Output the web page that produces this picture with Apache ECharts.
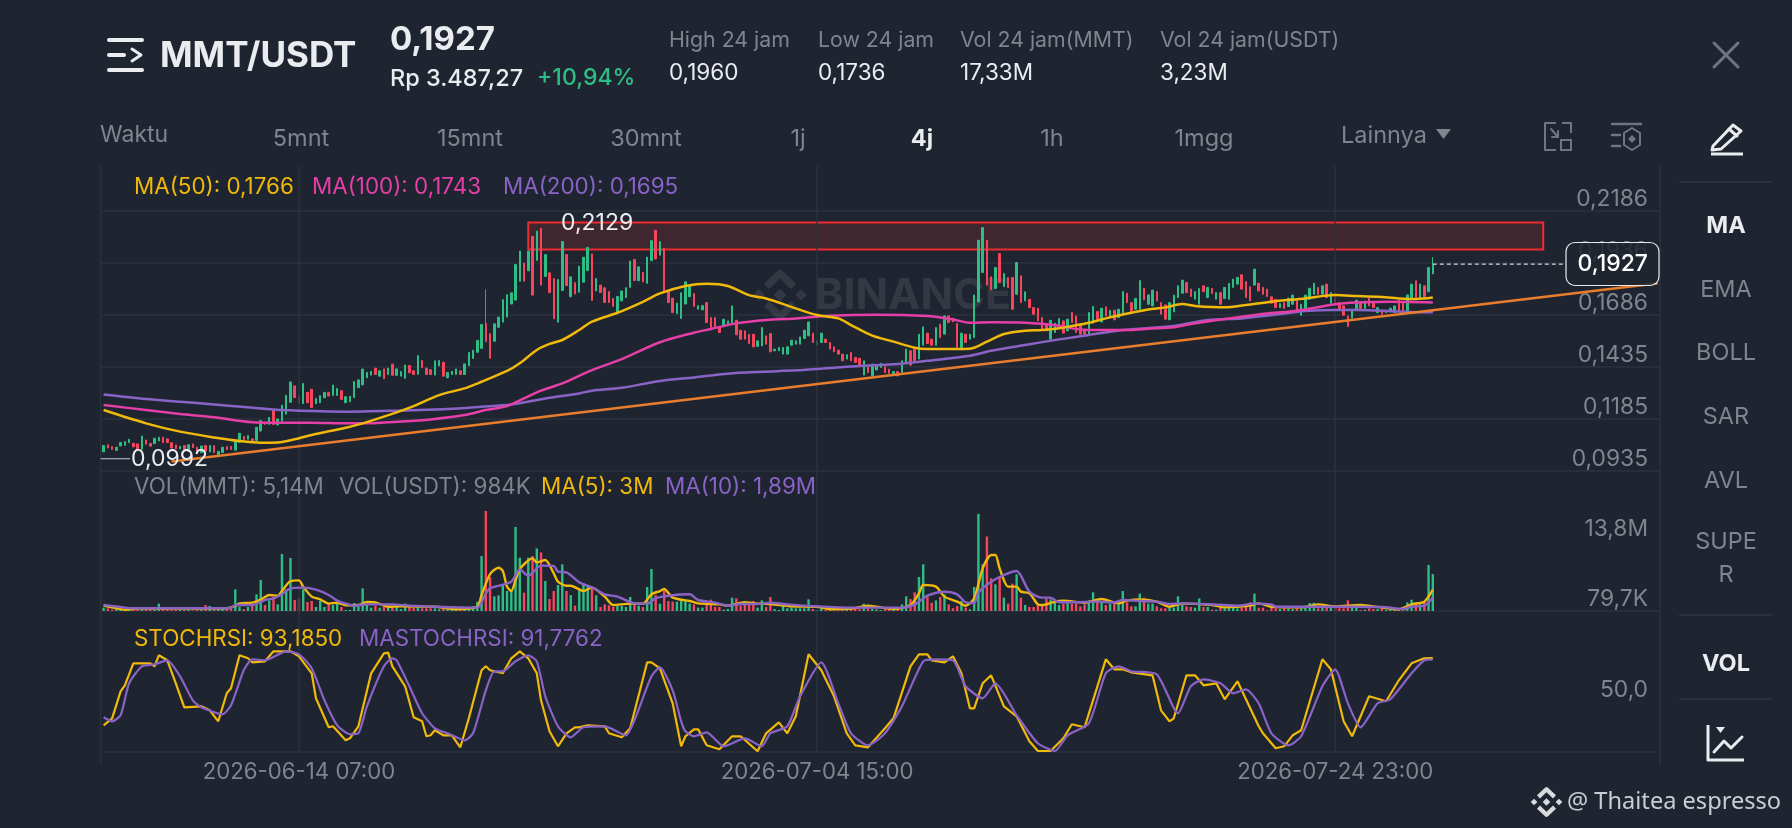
<!DOCTYPE html>
<html><head><meta charset="utf-8">
<style>html,body{margin:0;padding:0;background:#1F2530}#c{width:1792px;height:828px}</style>
<script src="https://cdn.jsdelivr.net/npm/echarts@6/dist/echarts.min.js"></script>
</head><body><div id="c"></div>
<script>
const SLOTS = 367;
const tickIdx = [46,168,290];
const tickLabels = ['2026-06-14 07:00','2026-07-04 15:00','2026-07-24 23:00'];
// open, close, [low, high]
const ohlc = [
[.1024,.1054],[.1058,.1042],[.1049,.1035],[.1031,.1046],[.1052,.1069],[.1055,.1073],[.1068,.1084],[.1065,.1048],[.1062,.1035],[.1036,.1100],
[.1081,.1060],[.1065,.1051],[.1063,.1089],[.1076,.1094],[.1094,.1068],[.1086,.1068],[.1068,.1042],[.1057,.1039],[.1038,.1050],[.1054,.1035],
[.1026,.1058],[.1062,.1044],[.1046,.1020],[.1020,.1052],[.1054,.1028],[.1023,.1054],[.1054,.1020],[.1007,.1026],[.1020,.1046],[.1049,.1035],
[.1050,.1035],[.1032,.1074],[.1069,.1113],[.1098,.1083],[.1084,.1102],[.1086,.1075],[.1079,.1142],[.1124,.1174],[.1166,.1156],[.1156,.1190],
[.1225,.1156,.1153,.1228],[.1153,.1182],[.1170,.1248],[.1205,.1296],[.1262,.1360],[.1341,.1285],[.1294,.1260],[.1256,.1353],[.1310,.1260],[.1325,.1237],
[.1255,.1281],[.1260,.1294],[.1284,.1310],[.1310,.1292],[.1295,.1345],[.1295,.1329],[.1318,.1276],[.1260,.1289],[.1265,.1291],[.1285,.1362],
[.1333,.1370],[.1346,.1422],[.1380,.1406],[.1393,.1411],[.1427,.1396],[.1388,.1414],[.1423,.1376],[.1396,.1427],[.1446,.1392],[.1392,.1423],
[.1388,.1411],[.1378,.1442],[.1439,.1404],[.1414,.1396],[.1397,.1486],[.1463,.1429],[.1427,.1396],[.1419,.1396],[.1393,.1462],[.1437,.1463],
[.1455,.1388],[.1380,.1406],[.1396,.1411],[.1396,.1423],[.1414,.1396],[.1396,.1447],[.1438,.1502],[.1473,.1513],[.1503,.1560],[.1522,.1637],
[.1642,.1555,.1551,.1806],[.1592,.1474],[.1556,.1640],[.1623,.1672],[.1648,.1756],[.1672,.1780],[.1735,.1789],[.1754,.1925],[.1845,.1990],[.1932,.1845],
[.1895,.1990],[.2060,.1778],[.1945,.2086],[.2100,.1826],[.1868,.1973],[.1885,.1790],[.1858,.1664],[.1648,.1853],[.1800,.2036],[.1973,.1824],
[.1770,.1866],[.1838,.1783],[.1792,.1917],[.1840,.1960],[.1896,.2008],[.1976,.1752],[.1798,.1858],[.1826,.1790],[.1813,.1743],[.1795,.1742],
[.1762,.1723],[.1692,.1772],[.1750,.1798],[.1766,.1814],[.1815,.1942],[.1950,.1848],[.1847,.1914],[.1887,.1842],[.1835,.1961],[.1944,.2040],
[.2090,.1952],[.1970,.2035],[.2004,.1798],[.1798,.1742],[.1763,.1694],[.1689,.1739],[.1665,.1789],[.1735,.1842],[.1770,.1823],[.1786,.1723],
[.1710,.1727],[.1707,.1727],[.1742,.1646],[.1670,.1622],[.1670,.1622],[.1627,.1598],[.1630,.1662],[.1630,.1654],[.1646,.1726],[.1657,.1587],
[.1609,.1566],[.1606,.1566],[.1590,.1545],[.1590,.1529],[.1531,.1558],[.1534,.1622],[.1582,.1542],[.1593,.1505],[.1510,.1518],[.1510,.1526],
[.1494,.1526],[.1494,.1529],[.1537,.1561],[.1542,.1558],[.1542,.1577],[.1569,.1609],[.1582,.1649],[.1595,.1550],[.1539,.1558],[.1550,.1595],
[.1566,.1550],[.1550,.1518],[.1529,.1505],[.1513,.1494],[.1494,.1462],[.1470,.1491],[.1502,.1462],[.1478,.1454],[.1474,.1434],[.1393,.1462],
[.1433,.1405],[.1389,.1446],[.1418,.1438],[.1430,.1450],[.1433,.1405],[.1422,.1402],[.1397,.1410],[.1410,.1389],[.1405,.1462],[.1446,.1518],
[.1510,.1441],[.1518,.1462],[.1470,.1590],[.1537,.1625],[.1595,.1545],[.1566,.1537],[.1537,.1622],[.1638,.1574],[.1590,.1678],[.1678,.1646],
[.1667,.1649],[.1641,.1526],[.1526,.1595],[.1590,.1550],[.1566,.1590],[.1574,.1779],[.1745,.2042],[.1887,.2103],[.2042,.1826],[.1866,.1803],
[.1810,.1911],[.1978,.1839],[.1819,.1882],[.1863,.1814],[.1863,.1710],[.1782,.1935],[.1871,.1742],[.1750,.1794],[.1758,.1718],[.1718,.1686],
[.1715,.1654],[.1670,.1614],[.1638,.1606],[.1566,.1657],[.1598,.1643],[.1630,.1665],[.1654,.1595],[.1606,.1662],[.1694,.1646],[.1678,.1598],
[.1635,.1590],[.1614,.1590],[.1590,.1694],[.1643,.1723],[.1699,.1662],[.1649,.1715],[.1722,.1678],[.1678,.1705],[.1705,.1659],[.1670,.1710],
[.1691,.1795],[.1787,.1742],[.1742,.1691],[.1710,.1762],[.1710,.1848],[.1811,.1755],[.1734,.1779],[.1726,.1802],[.1795,.1750],[.1742,.1686],
[.1731,.1662],[.1659,.1742],[.1697,.1778],[.1766,.1823],[.1787,.1850],[.1839,.1790],[.1807,.1771],[.1758,.1795],[.1734,.1810],[.1823,.1794],
[.1766,.1815],[.1810,.1786],[.1758,.1790],[.1790,.1734],[.1762,.1815],[.1758,.1835],[.1815,.1855],[.1831,.1863],[.1876,.1807],[.1843,.1766],
[.1818,.1750],[.1826,.1903],[.1835,.1798],[.1815,.1782],[.1807,.1771],[.1770,.1739],[.1758,.1718],[.1718,.1738],[.1742,.1713],[.1723,.1763],
[.1734,.1778],[.1750,.1702],[.1681,.1734],[.1702,.1778],[.1758,.1811],[.1782,.1835],[.1815,.1782],[.1782,.1823],[.1831,.1766],[.1739,.1790],
[.1782,.1734],[.1742,.1710],[.1726,.1681],[.1678,.1627],[.1667,.1710],[.1710,.1754],[.1747,.1713],[.1713,.1750],[.1763,.1726],[.1747,.1718],
[.1694,.1718],[.1705,.1686],[.1694,.1705],[.1697,.1715],[.1694,.1726],[.1754,.1702],[.1742,.1702],[.1702,.1779],[.1766,.1831],[.1847,.1766],
[.1766,.1831],[.1823,.1771],[.1794,.1911],[.1880,.1927,.1880,.1960]
];
const volumes = [
.54,.45,.26,.31,.26,.22,.26,.31,.22,.26,.31,.35,.22,1.09,.45,.26,.22,.22,.22,.26,.22,.17,.22,.26,.90,.77,.45,.40,.40,.35,
.35,3.05,.68,.35,.63,.77,2.37,4.33,.90,1.54,2.0,.99,7.89,3.05,7.35,1.59,1.77,3.05,1.31,1.45,.63,1.45,.63,1.09,.90,1.09,.63,.22,.22,1.18,
.72,3.19,.90,.54,.81,.54,.63,.54,.54,.63,.35,1.09,.63,.54,.81,.45,.45,.45,.45,.31,.45,.31,.26,.26,.26,.63,.63,.72,1.36,7.62,
13.8,4.74,2.09,2.23,3.74,2.82,2.82,11.6,7.39,2.59,7.39,7.62,8.67,8.12,4.19,1.73,2.82,3.64,6.48,2.82,2.27,.81,2.91,3.83,3.55,3.10,2.23,.63,.99,.86,
.63,.77,.77,.63,2.0,1.09,.81,.63,3.37,5.84,2.27,1.09,2.91,1.45,1.36,1.36,1.54,1.45,1.09,.99,.54,.54,.99,1.63,.63,.63,.26,.35,1.91,1.82,
.81,.90,.99,1.45,.54,1.54,.63,2.0,.35,.22,.81,.45,.54,.45,.45,.45,1.68,.35,.22,.45,.22,.17,.17,.17,.22,.22,.63,.45,.35,1.09,
.54,.35,.31,.22,.35,.31,.26,.45,.99,2.09,1.73,2.64,4.74,6.48,2.0,1.22,1.54,2.0,2.37,.99,.45,.77,1.45,.54,.31,3.37,13.4,6.48,10.3,4.56,
3.74,4.88,1.91,1.09,3.83,5.11,1.91,.90,.63,.63,.90,.81,1.73,1.68,1.36,.90,1.09,1.22,1.09,1.09,.72,.99,1.54,2.64,1.45,1.36,.90,1.09,1.09,1.09,
2.82,1.27,.72,.72,2.46,1.91,1.09,1.09,.72,.45,.45,.54,.54,2.09,.90,.72,.63,.54,1.82,.63,.63,.26,.26,1.09,.45,.90,.90,.45,.54,.63,
1.27,2.46,.54,.54,.17,.72,.45,.35,.45,.45,.35,.45,.45,.54,1.18,1.22,.45,.72,.63,.63,.54,.45,.45,1.54,.63,.54,.22,.26,.45,.35,
.35,.35,.22,.22,.26,.26,.45,1.27,1.63,1.27,.99,1.36,6.39,5.14
];
const ma50 = [[0,.1225],[10,.1161],[18,.1121],[26,.1093],[32,.1076],[37,.1068],[41,.1069],[45,.1084],[49,.1105],[57,.1140],[61,.1161],[69,.1214],[73,.1244],[79,.1297],[85,.1329],[89,.1361],[95,.1413],[98,.1450],[102,.1514],[105,.1543],[108,.1562],[112,.1610],[115,.1650],[121,.1693],[127,.1746],[131,.1786],[137,.1822],[142,.1833],[147,.1822],[152,.1778],[156,.1762],[163,.1714],[168,.1682],[173,.1666],[176,.1634],[181,.1583],[186,.1554],[191,.1525],[194,.1519],[200,.1519],[204,.1520],[208,.1554],[212,.1591],[217,.1607],[221,.1610],[225,.1618],[228,.1629],[232,.1645],[236,.1666],[242,.1693],[246,.1709],[250,.1719],[254,.1735],[257,.1726],[264,.1719],[269,.1730],[275,.1746],[283,.1762],[290,.1778],[295,.1774],[300,.1770],[305,.1762],[309,.1759],[313,.1766]];
const ma100 = [[0,.1249],[10,.1225],[18,.1206],[26,.1190],[35,.1166],[41,.1164],[49,.1164],[57,.1161],[61,.1161],[69,.1169],[77,.1180],[85,.1201],[90,.1225],[95,.1244],[99,.1281],[103,.1318],[108,.1353],[115,.1417],[122,.1470],[131,.1551],[139,.1597],[143,.1615],[149,.1642],[156,.1658],[163,.1666],[171,.1679],[182,.1684],[194,.1677],[200,.1661],[204,.1645],[209,.1647],[217,.1645],[225,.1631],[228,.1618],[232,.1610],[236,.1610],[242,.1610],[246,.1616],[252,.1623],[256,.1639],[261,.1655],[268,.1674],[274,.1690],[279,.1698],[283,.1709],[290,.1734],[295,.1742],[303,.1746],[313,.1743]];
const ma200 = [[0,.1300],[10,.1278],[18,.1265],[26,.1252],[40,.1228],[49,.1220],[57,.1217],[69,.1222],[81,.1230],[89,.1241],[96,.1252],[104,.1281],[112,.1305],[115,.1318],[122,.1332],[131,.1365],[139,.1382],[147,.1400],[155,.1409],[163,.1416],[171,.1427],[178,.1437],[186,.1445],[194,.1462],[204,.1486],[209,.1510],[217,.1538],[225,.1565],[232,.1586],[240,.1610],[252,.1629],[260,.1658],[268,.1666],[275,.1682],[283,.1701],[290,.1706],[295,.1706],[303,.1701],[307,.1697],[313,.1695]];
const trendLine = [[16,.0977],[366,.1835]];
const lastPrice = [[313,.1927],[344,.1927]];
const zoneX = [100,339];
const zoneY = [.1997,.2128];
const volMa5 = [[0,.81],[3,.45],[5,.26],[9,.45],[19,.40],[29,.45],[31,.77],[32,1.13],[35,1.22],[37,1.63],[39,2.27],[41,2.18],[42,2.82],[44,4.19],[46,4.28],[47,3.42],[49,2.05],[51,1.68],[53,1.09],[55,1.22],[57,.86],[60,.90],[62,1.31],[64,1.27],[67,.67],[70,.72],[78,.67],[83,.31],[88,.67],[89,2.27],[91,5.15],[93,6.02],[94,5.56],[95,3.42],[96,2.82],[97,4.28],[98,5.84],[101,7.30],[102,6.75],[104,7.07],[106,5.24],[107,4.10],[109,3.55],[110,3.55],[113,2.82],[115,3.28],[118,2.05],[120,.90],[124,1.09],[127,1.09],[129,2.37],[131,2.82],[132,3.10],[134,1.91],[138,1.45],[140,1.13],[145,.99],[147,.81],[151,1.27],[154,1.09],[157,1.04],[162,.72],[168,.67],[171,.31],[176,.40],[180,.81],[186,.35],[190,.90],[192,2.50],[193,3.64],[196,3.42],[198,2.05],[201,1.36],[203,.81],[205,1.82],[207,5.93],[209,7.76],[210,7.76],[211,5.93],[213,3.42],[215,3.42],[216,2.73],[218,2.50],[220,.99],[221,.90],[224,1.36],[226,1.50],[231,1.22],[235,1.73],[239,1.13],[241,1.50],[244,1.68],[248,1.36],[251,.67],[254,1.09],[261,.90],[264,.58],[270,.81],[272,1.13],[275,.67],[282,.58],[286,.99],[290,.72],[296,.90],[301,.54],[305,.31],[308,.99],[311,1.36],[313,3.0]];
const volMa10 = [[0,.90],[4,.63],[7,.45],[15,.45],[23,.45],[30,.49],[31,.90],[35,.90],[38,1.59],[40,1.82],[42,2.37],[44,3.19],[47,3.28],[50,3.0],[53,2.27],[55,1.50],[56,1.27],[59,.81],[62,.99],[68,.99],[72,.81],[78,.67],[88,.54],[90,2.50],[91,3.19],[96,4.10],[98,5.79],[100,4.92],[103,6.30],[106,6.25],[107,5.47],[109,5.38],[112,4.01],[115,3.32],[118,2.37],[121,2.05],[125,1.13],[128,1.09],[130,1.82],[133,2.18],[138,2.37],[140,1.59],[144,1.22],[147,.81],[150,1.04],[154,1.04],[157,1.22],[161,.99],[168,.72],[176,.54],[188,.54],[191,.99],[194,2.18],[198,2.73],[201,2.37],[203,1.27],[205,1.18],[206,2.64],[209,4.10],[212,5.02],[215,5.56],[218,2.73],[221,1.91],[223,1.91],[225,1.27],[228,1.27],[234,1.36],[238,1.27],[240,1.59],[244,1.45],[248,1.36],[251,1.04],[254,1.13],[262,.95],[267,.81],[271,1.09],[275,.99],[276,.67],[283,.67],[292,.67],[301,.63],[306,.35],[308,.67],[311,.81],[313,1.89]];
const stoch = [[0,26],[2,33],[4,60],[5,66],[7,88],[11,88],[12,85],[13,96],[15,91],[17,68],[19,44],[23,45],[25,41],[27,30],[29,58],[30,63],[32,96],[34,93],[35,89],[38,90],[40,100],[44,100],[46,95],[49,78],[50,53],[53,24],[54,25],[57,11],[58,13],[60,25],[63,78],[66,98],[67,98.6],[68,85],[71,65],[73,34],[75,30],[76,15],[77,16],[78,21],[80,16],[82,16],[84,4],[86,33],[89,81],[90,85],[91,81],[94,78],[96,93],[98,100],[100,93],[102,78],[103,51],[105,20],[107,5],[109,18],[111,24],[112,24],[114,26],[118,25],[119,18],[122,14],[124,23],[128,89],[129,89],[131,83],[134,48],[136,5],[137,15],[139,22],[140,22],[142,6],[145,2],[148,15],[150,15],[154,0],[156,18],[159,29],[161,18],[163,35],[166,97],[169,81],[172,55],[175,18],[177,6],[180,4],[184,23],[186,33],[190,85],[192,97],[194,97],[195,91],[198,89],[200,95],[202,78],[204,43],[205,43],[207,68],[209,76],[212,45],[215,35],[218,10],[220,.3],[223,.3],[226,13],[228,27],[231,24],[236,92],[238,82],[240,82],[242,79],[247,76],[249,41],[251,30],[252,33],[255,76],[257,76],[259,66],[262,68],[264,52],[267,70],[272,25],[273,18],[276,3],[278,5],[280,16],[282,21],[287,92],[289,82],[292,30],[294,15],[298,55],[302,50],[305,71],[308,88],[311,93],[313,93.2]];
const maStoch = [[0,34],[2,30],[4,36],[6,68],[9,85],[12,87],[15,91],[18,75],[21,51],[23,44],[28,37],[30,46],[33,81],[35,92],[38,91],[43,100],[46,97],[49,83],[52,51],[55,26],[58,17],[60,18],[62,45],[66,85],[68,93],[69,91],[72,65],[75,38],[78,23],[81,18],[85,11],[87,18],[90,61],[92,80],[94,80],[97,90],[100,96],[102,90],[104,55],[107,25],[110,14],[113,24],[118,25],[123,16],[125,31],[129,75],[131,84],[134,61],[136,30],[137,20],[139,15],[142,19],[146,5],[151,13],[155,5],[157,18],[161,25],[164,55],[169,89],[173,48],[176,18],[180,6],[184,18],[188,45],[193,90],[196,92],[200,91],[203,65],[207,53],[210,68],[215,36],[220,8],[224,.3],[227,16],[232,28],[236,78],[239,85],[242,80],[248,77],[253,38],[256,65],[259,72],[263,68],[266,58],[269,62],[272,48],[275,18],[279,6],[282,15],[287,65],[290,82],[293,48],[296,24],[300,48],[303,52],[308,78],[311,91],[313,91.8]];

const BG='#1F2530', GRID='#2B323D', AX='#80868F', UP='#2EBD85', DOWN='#F6465D', Y='#F0B90B', P='#E63FA8', V='#8A63C6', OR='#E97D2C';
const FONT='Inter, "Noto Sans", sans-serif';
const categories = Array.from({length:SLOTS},(_,i)=>String(i));
const candles = ohlc.map(r=> r.length===4 ? r : [r[0],r[1],Math.min(r[0],r[1]),Math.max(r[0],r[1])]);
const volBars = volumes.map((v,i)=>({value:v,itemStyle:{color:ohlc[i][1]>=ohlc[i][0]?UP:DOWN}}));

const T=(text,x,y,size,fill,weight,align,family)=>({type:'text',z:50,silent:true,style:{text,x,y:y+1.5,fontSize:size,fill,fontWeight:weight||400,align:align||'left',verticalAlign:'middle',fontFamily:family||FONT}});
const L=(pts,color,w,cap)=>({type:'polyline',z:50,silent:true,shape:{points:pts},style:{stroke:color,lineWidth:w,fill:null,lineCap:cap||'round',lineJoin:'round'}});
const PG=(pts,fill)=>({type:'polygon',z:50,silent:true,shape:{points:pts},style:{fill}});
const logo=(cx,cy,s,c,z)=>{const d=(x,y,r)=>PG([[cx+x*s,cy+(y-r)*s],[cx+(x+r)*s,cy+y*s],[cx+x*s,cy+(y+r)*s],[cx+(x-r)*s,cy+y*s]],c);
 const ch=(sgn)=>L([[cx-.5*s,cy+sgn*.32*s],[cx,cy+sgn*.8*s],[cx+.5*s,cy+sgn*.32*s]],c,.27*s,'butt');
 return [d(0,0,.24),d(-.78,0,.21),d(.78,0,.21),ch(-1),ch(1)];};
const W1='#EAECEF',G1='#7F858E';
const graphics=[
 // header
 L([[109,40],[142,40]],W1,4),L([[109,55],[124,55]],W1,4),L([[132,49],[141,55],[132,61]],W1,3),L([[109,70],[142,70]],W1,4),
 T('MMT/USDT',160,55,35,W1,700),
 T('0,1927',390,39,33,W1,700),
 T('Rp 3.487,27',390,77,23.5,W1,500),
 T('+10,94%',537,77,23,UP,500),
 T('High 24 jam',669,39,21.3,G1),T('0,1960',669,72,22.5,W1),
 T('Low 24 jam',818,39,21.3,G1),T('0,1736',818,72,22.5,W1),
 T('Vol 24 jam(MMT)',960,39,21.3,G1),T('17,33M',960,72,22.5,W1),
 T('Vol 24 jam(USDT)',1160,39,21.3,G1),T('3,23M',1160,72,22.5,W1),
 L([[1714,43],[1738,67]],'#6F7681',3),L([[1738,43],[1714,67]],'#6F7681',3),
 // periods
 T('Waktu',100,134,23,G1),
 T('5mnt',301,137,23.5,G1,400,'center'),T('15mnt',470,137,23.5,G1,400,'center'),T('30mnt',646,137,23.5,G1,400,'center'),
 T('1j',798,137,23.5,G1,400,'center'),T('4j',922,137,23.5,W1,700,'center'),T('1h',1052,137,23.5,G1,400,'center'),T('1mgg',1204,137,23.5,G1,400,'center'),
 T('Lainnya',1341,134,23.5,G1),
 PG([[1436,129],[1451,129],[1443.5,139]],G1),
 // toolbar icons
 L([[1556,123],[1545,123],[1545,150],[1556,150]],'#6F7681',2,'butt'),L([[1562,123],[1571,123],[1571,133]],'#6F7681',2,'butt'),L([[1551,129],[1558,137]],'#6F7681',2),L([[1552,137],[1558,137],[1558,131]],'#6F7681',2),
 {type:'rect',z:50,silent:true,shape:{x:1561,y:140,width:10,height:10},style:{stroke:'#6F7681',lineWidth:2,fill:null}},
 L([[1612,124],[1641,124]],'#6F7681',2.5),L([[1612,135],[1620,135]],'#6F7681',2.5),L([[1612,146],[1620,146]],'#6F7681',2.5),
 L([[1632,128],[1640,133],[1640,145],[1632,150],[1624,145],[1624,133],[1632,128]],'#6F7681',2),
 PG([[1632,135],[1636,139],[1632,143],[1628,139]],'#6F7681'),
 // pencil
 L([[1713,146],[1733,125],[1741,131],[1721,149],[1712,150],[1713,146]],W1,3),L([[1729,129],[1737,136]],W1,3),L([[1711,154],[1743,154]],W1,3,'butt'),
 // sidebar
 T('MA',1726,224,23.5,W1,700,'center'),T('EMA',1726,288,23.5,G1,400,'center'),T('BOLL',1726,351,23.5,G1,400,'center'),
 T('SAR',1726,415,23.5,G1,400,'center'),T('AVL',1726,479,23.5,G1,400,'center'),T('SUPE',1726,540,23.5,G1,400,'center'),T('R',1726,573,23.5,G1,400,'center'),
 T('VOL',1726,662,23.5,W1,700,'center'),
 L([[1679,182],[1772,182]],GRID,2,'butt'),L([[1679,615],[1772,615]],GRID,2,'butt'),L([[1679,699],[1772,699]],GRID,2,'butt'),
 L([[1708,725],[1708,760],[1744,760]],W1,3,'butt'),L([[1714,752],[1724,741],[1731,748],[1742,737]],W1,3),PG([[1716,727],[1725,727],[1720.5,733]],W1),
 // frame
 L([[100.7,166],[100.7,765]],GRID,1.5,'butt'),L([[1660,166],[1660,765]],GRID,1.5,'butt'),
 // legends
 T('MA(50): 0,1766',134,186,22.4,Y),T('MA(100): 0,1743',312,186,22.4,P),T('MA(200): 0,1695',503,186,22.4,V),
 T('VOL(MMT): 5,14M',134,486,22.4,G1),T('VOL(USDT): 984K',339,486,22.4,G1),T('MA(5): 3M',541,486,22.4,Y),T('MA(10): 1,89M',665,486,22.4,V),
 T('STOCHRSI: 93,1850',134,638,22.4,Y),T('MASTOCHRSI: 91,7762',359,638,22.4,V),
 // price marks
 T('0,2129',561,222,23,W1),T('0,0992',131,458,23,W1),
 L([[100.7,458.7],[130,458.7]],'#AEB2B8',1.2,'butt'),
 {type:'rect',z:55,silent:true,shape:{x:1566,y:242.5,width:93,height:43,r:9},style:{fill:'rgba(31,37,48,.86)',stroke:'#E6E8EA',lineWidth:1.2}},
 Object.assign(T('0,1927',1648,263,23,'#FFFFFF',500,'right'),{z:56}),
 // watermark
 Object.assign(T('BINANCE',815,295,43,'rgba(255,255,255,.09)',700),{z:3}),
 ...logo(780,295,27,'rgba(255,255,255,.09)').map(o=>Object.assign(o,{z:3})),
 // credit
 ...logo(1546.5,802,16,'#D8DADD'),
 T('@ Thaitea espresso',1567,801,23.6,'#C9CCD0',400,'left','"Noto Sans", sans-serif'),
];

const yCommon={position:'right',axisLine:{show:false},axisTick:{show:false},scale:false};
const xCommon=(idx,showLabel)=>({type:'category',gridIndex:idx,data:categories,axisTick:{show:false},
  axisLine:{show:idx>0,lineStyle:{color:GRID,width:1.5}},splitLine:{show:false},
  axisLabel:showLabel?{show:true,interval:i=>tickIdx.includes(i),formatter:(v,i)=>tickLabels[tickIdx.indexOf(Number(v))],color:AX,fontSize:22.2,fontFamily:FONT,margin:10}:{show:false}});
const vLines=(x,y)=>({name:'',type:'line',xAxisIndex:x,yAxisIndex:y,data:[],z:1,silent:true,symbol:'none',
  markLine:{silent:true,symbol:'none',animation:false,label:{show:false},lineStyle:{color:GRID,width:1.5,type:'solid'},data:tickIdx.map(i=>({xAxis:i}))}});
const lineS=(name,data,color,x,y,w,smooth)=>({name,type:'line',xAxisIndex:x,yAxisIndex:y,data,showSymbol:false,symbol:'none',smooth:smooth,z:5,
  connectNulls:true,lineStyle:{color,width:w},itemStyle:{color},silent:true});

const chart=echarts.init(document.getElementById('c'),null,{renderer:'canvas'});
chart.setOption({
 animation:false,backgroundColor:BG,
 grid:[{left:101.5,width:1558.5,top:166,height:304.3},{left:101.5,width:1558.5,top:470.3,height:140.7},{left:101.5,width:1558.5,top:611,height:140.3}],
 xAxis:[xCommon(0,false),xCommon(1,false),xCommon(2,true)],
 yAxis:[
  {...yCommon,type:'value',gridIndex:0,min:.0935,max:.23993,interval:.02502,
   splitLine:{show:true,showMaxLine:false,lineStyle:{color:GRID,width:1.5}},
   axisLabel:{inside:true,margin:12,color:AX,fontSize:22.8,fontFamily:FONT,verticalAlign:'bottom',showMaxLabel:false,formatter:v=>v.toFixed(4).replace('.',',')}},
  {...yCommon,type:'value',gridIndex:1,min:.0797,max:19.38,interval:13.7203,splitLine:{show:false},
   axisLabel:{inside:true,margin:12,color:AX,fontSize:22.8,fontFamily:FONT,verticalAlign:'middle',showMaxLabel:false,
    formatter:v=>v<1?'{lo|79,7K}':'{hi|13,8M}',
    rich:{lo:{color:AX,fontSize:22.8,fontFamily:FONT,padding:[0,0,24,0]},hi:{color:AX,fontSize:22.8,fontFamily:FONT,padding:[36,0,0,0]}}}},
  {...yCommon,type:'value',gridIndex:2,min:0,max:140.3,interval:50,splitLine:{show:false},
   axisLabel:{inside:true,margin:12,color:AX,fontSize:22.8,fontFamily:FONT,verticalAlign:'bottom',formatter:v=>v===50?'50,0':''}}
 ],
 graphic:{elements:graphics},
 series:[
  vLines(0,0),vLines(1,1),vLines(2,2),
  {name:'MMT/USDT',type:'candlestick',xAxisIndex:0,yAxisIndex:0,data:candles,barWidth:2,z:4,silent:true,
   itemStyle:{color:UP,color0:DOWN,borderColor:UP,borderColor0:DOWN,borderWidth:1},
   markArea:{silent:true,animation:false,itemStyle:{color:'rgba(245,45,45,.15)',borderColor:'#EE2C30',borderWidth:2},
    data:[[{xAxis:zoneX[0],yAxis:zoneY[1]},{xAxis:zoneX[1],yAxis:zoneY[0]}]]}},
  lineS('MA(200)',ma200,V,0,0,2.5,.3),lineS('MA(100)',ma100,P,0,0,2.5,.3),lineS('MA(50)',ma50,Y,0,0,2.5,.3),
  lineS('Trend',trendLine,OR,0,0,2.5,false),
  {...lineS('Last',lastPrice,'#D5D7DA',0,0,1,false),lineStyle:{color:'#D5D7DA',width:1.2,type:[4,3]}},
  {name:'VOL',type:'bar',xAxisIndex:1,yAxisIndex:1,data:volBars,barWidth:2.4,z:4,silent:true},
  lineS('MA(5)',volMa5,Y,1,1,2.4,.25),lineS('MA(10)',volMa10,V,1,1,2.4,.25),
  lineS('STOCHRSI',stoch,Y,2,2,2.2,false),lineS('MASTOCHRSI',maStoch,V,2,2,2.2,.2)
 ]
});
</script></body></html>
